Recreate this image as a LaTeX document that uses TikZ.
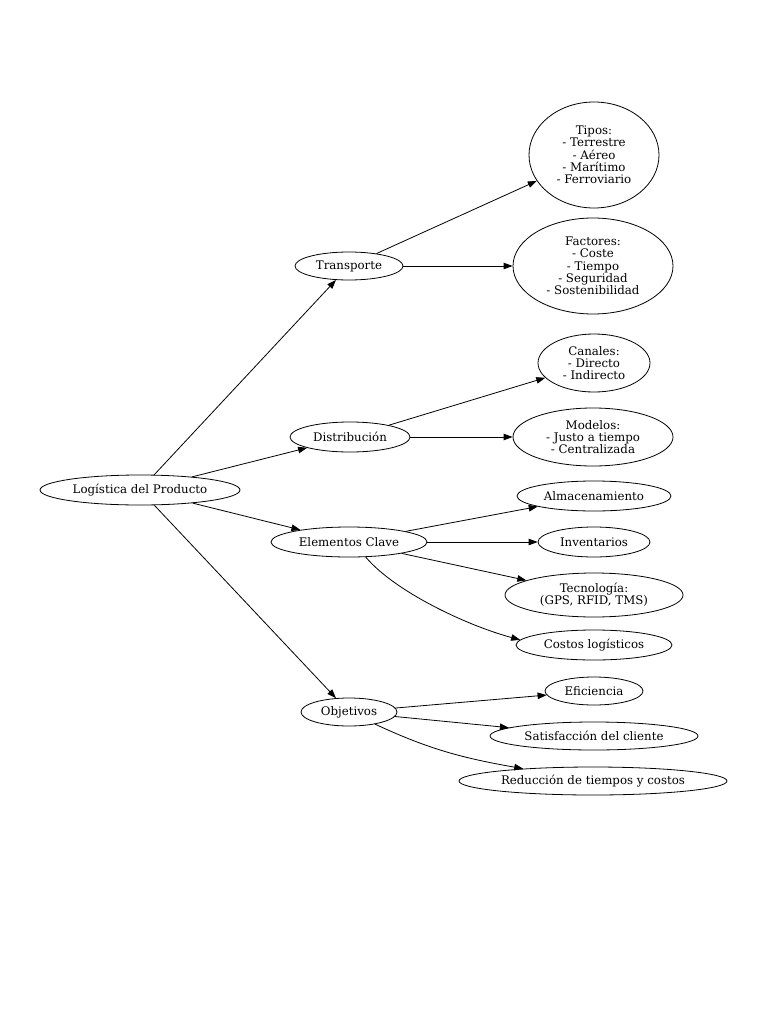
\documentclass[tikz,border=0pt]{standalone}
\usepackage{fontspec}
\setmainfont{DejaVu Serif}
\usetikzlibrary{shapes.geometric,arrows.meta}
\tikzset{
  nd/.style={ellipse, draw, line width=0.8pt, inner sep=0pt, align=center,
    font=\fontsize{11.8}{12.3}\selectfont},
  ar/.style={-{Triangle[length=9pt,width=6.5pt]}, line width=0.8pt},
}
\begin{document}
\begin{tikzpicture}[x=1pt,y=-1pt]
\useasboundingbox (0,0) rectangle (768,1024);
\fill[white] (0,0) rectangle (768,1024);
\node[nd, minimum width=200, minimum height=30] (log) at (140,490) {Logística del Producto};
\node[nd, minimum width=108, minimum height=28] (tra) at (349,266) {Transporte};
\node[nd, minimum width=130, minimum height=106] (tip) at (594,155) {Tipos:\\- Terrestre\\- Aéreo\\- Marítimo\\- Ferroviario};
\node[nd, minimum width=160, minimum height=96] (fac) at (593,266) {Factores:\\- Coste\\- Tiempo\\- Seguridad\\- Sostenibilidad};
\node[nd, minimum width=120, minimum height=30] (dis) at (350,437) {Distribución};
\node[nd, minimum width=112, minimum height=58] (can) at (594,363) {Canales:\\- Directo\\- Indirecto};
\node[nd, minimum width=160, minimum height=58] (mod) at (593,437) {Modelos:\\- Justo a tiempo\\- Centralizada};
\node[nd, minimum width=156, minimum height=30] (ele) at (349,542) {Elementos Clave};
\node[nd, minimum width=154, minimum height=30] (alm) at (594,496) {Almacenamiento};
\node[nd, minimum width=112, minimum height=30] (inv) at (594,542) {Inventarios};
\node[nd, minimum width=178, minimum height=44] (tec) at (594,595) {Tecnología:\\(GPS, RFID, TMS)};
\node[nd, minimum width=156, minimum height=30] (cos) at (594,645) {Costos logísticos};
\node[nd, minimum width=96, minimum height=28] (obj) at (349,712) {Objetivos};
\node[nd, minimum width=98, minimum height=28] (efi) at (594,691) {Eficiencia};
\node[nd, minimum width=208, minimum height=28] (sat) at (594,736) {Satisfacción del cliente};
\node[nd, minimum width=268, minimum height=28] (red) at (593,781) {Reducción de tiempos y costos};

\draw[ar] (log) -- (tra);
\draw[ar] (log) -- (dis);
\draw[ar] (log) -- (ele);
\draw[ar] (log) -- (obj);
\draw[ar] (tra) -- (tip);
\draw[ar] (tra) -- (fac);
\draw[ar] (dis) -- (can);
\draw[ar] (dis) -- (mod);
\draw[ar] (ele) -- (alm);
\draw[ar] (ele) -- (inv);
\draw[ar] (ele) -- (tec);
\draw[ar] (ele.-42) .. controls +(50:45) and +(-165:55) .. (cos.176);
\draw[ar] (obj) -- (efi);
\draw[ar] (obj) -- (sat);
\draw[ar] (obj) to[out=-25, in=170] (red);
\end{tikzpicture}
\end{document}
